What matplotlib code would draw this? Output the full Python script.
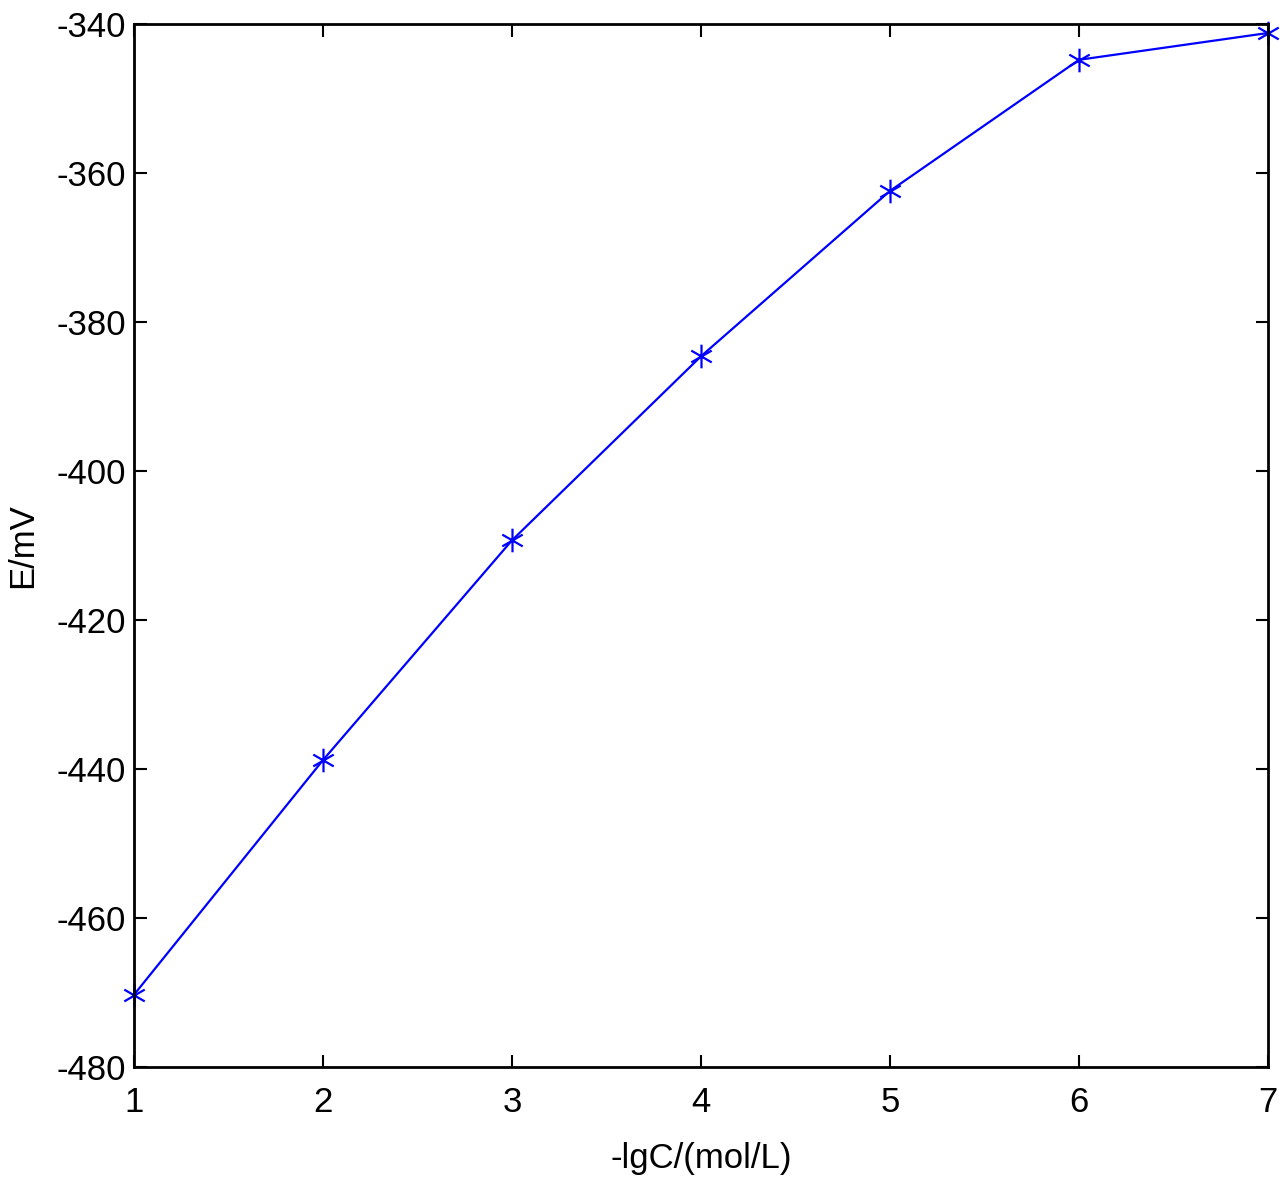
import matplotlib
matplotlib.use("Agg")
import matplotlib.pyplot as plt
from matplotlib.path import Path

x_vals = [1, 2, 3, 4, 5, 6, 7]
e_vals = [-470.3, -438.8, -409.3, -384.6, -362.4, -344.8, -341.2]
x_ticks = [1, 2, 3, 4, 5, 6, 7]
y_ticks = [-480, -460, -440, -420, -400, -380, -360, -340]

plt.rcParams['font.family'] = ['Liberation Sans', 'DejaVu Sans']
plt.rcParams['axes.unicode_minus'] = False

# MATLAB-style asterisk: vertical bar plus two diagonals
c, s = 0.866, 0.5
ast = Path([(0, -1), (0, 1), (-c, -s), (c, s), (-c, s), (c, -s)],
           [Path.MOVETO, Path.LINETO, Path.MOVETO, Path.LINETO, Path.MOVETO, Path.LINETO])

fig = plt.figure(figsize=(12.8, 11.79), dpi=100)
ax = fig.add_axes([0.1047, 0.095, 0.8859, 0.8846])
ax.plot(x_vals, e_vals, color='#0000ff', linewidth=1.6, marker=ast,
        markersize=17, markeredgewidth=1.6, markerfacecolor='none', clip_on=False)
ax.set_xlim(1, 7)
ax.set_ylim(-480, -340)
ax.set_xticks(x_ticks)
ax.set_yticks(y_ticks)
ax.tick_params(direction='in', length=9, width=1.5, top=True, right=True,
               labelsize=25, pad=6)
ax.tick_params(axis='x', pad=14)
for sp in ax.spines.values():
    sp.set_linewidth(2)
ax.set_xlabel('-lgC/(mol/L)', fontsize=25, labelpad=16)
ax.set_ylabel('E/mV', fontsize=25, labelpad=12)
fig.savefig('out.png', dpi=100)
